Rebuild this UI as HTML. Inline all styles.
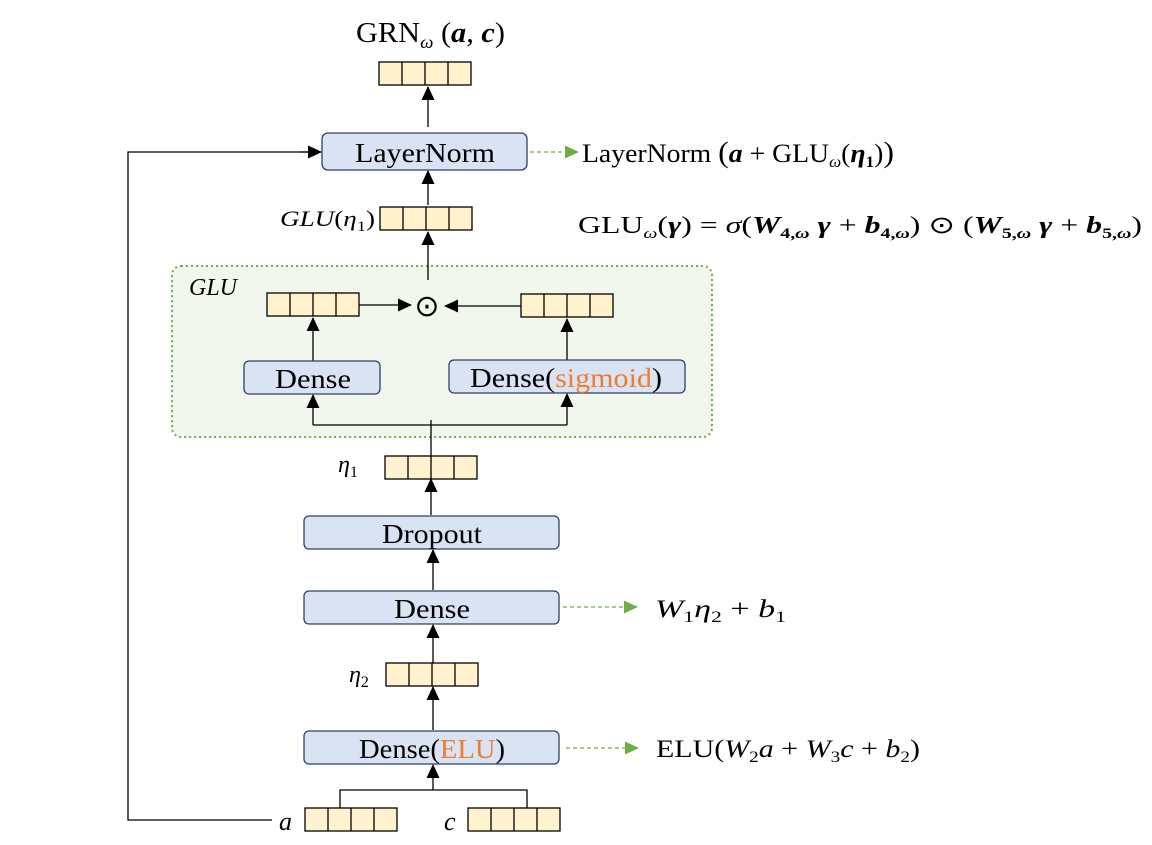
<!DOCTYPE html>
<html><head><meta charset="utf-8"><style>
html,body{margin:0;padding:0;background:#fff;}
svg{display:block;font-family:"Liberation Serif",serif;}
.b{fill:#dae3f3;stroke:#2f4060;stroke-width:1.3;}
.v{fill:#fff2cc;stroke:#000;stroke-width:1.3;}
.l{stroke:#000;stroke-width:1.3;fill:none;}
.g{stroke:#70ad47;stroke-width:1.3;stroke-dasharray:4,3;fill:none;}
</style></head><body>
<svg width="1152" height="845" viewBox="0 0 1152 845" xmlns="http://www.w3.org/2000/svg">
<defs>
<marker id="a" markerWidth="14" markerHeight="14" refX="13" refY="6.5" orient="auto" markerUnits="userSpaceOnUse"><path d="M0,0 L14,6.5 L0,13 z" fill="#000"/></marker>
<marker id="gA" markerWidth="14" markerHeight="14" refX="13" refY="6.5" orient="auto" markerUnits="userSpaceOnUse"><path d="M0,0 L14,6.5 L0,13 z" fill="#70ad47"/></marker>
<g id="vec"><rect class="v" x="0" y="0" width="92" height="23"/><path class="l" d="M23,0V23M46,0V23M69,0V23"/></g>
</defs>

<!-- GLU region -->
<rect x="172" y="266" width="540" height="171" rx="9" fill="#f2f7ee" stroke="#70ad47" stroke-width="2" stroke-dasharray="2,3"/>
<text x="189" y="295" font-size="24" font-style="italic" textLength="48" lengthAdjust="spacingAndGlyphs">GLU</text>

<!-- title -->
<text x="356" y="42" font-size="29" textLength="149" lengthAdjust="spacingAndGlyphs">GRN<tspan font-size="18" font-style="italic" dy="6">ω</tspan><tspan dy="-6"> (</tspan><tspan font-weight="bold" font-style="italic">a</tspan>, <tspan font-weight="bold" font-style="italic">c</tspan>)</text>
<use href="#vec" x="379" y="62"/>
<line class="l" x1="428" y1="127" x2="428" y2="87" marker-end="url(#a)"/>

<!-- LayerNorm -->
<rect class="b" x="322" y="133" width="205" height="37" rx="6"/>
<text x="355" y="162" font-size="27" textLength="140" lengthAdjust="spacingAndGlyphs">LayerNorm</text>
<line class="g" x1="530" y1="152" x2="578" y2="152" marker-end="url(#gA)"/>
<text x="582" y="162" font-size="26" textLength="312" lengthAdjust="spacingAndGlyphs">LayerNorm <tspan font-size="30">(</tspan><tspan font-weight="bold" font-style="italic">a</tspan> + GLU<tspan font-size="16" font-style="italic" dy="5">ω</tspan><tspan dy="-5">(</tspan><tspan font-weight="bold" font-style="italic">η</tspan><tspan font-size="16" font-weight="bold" dy="5">1</tspan><tspan dy="-5">)</tspan><tspan font-size="30">)</tspan></text>

<line class="l" x1="428" y1="205" x2="428" y2="171" marker-end="url(#a)"/>
<text x="280" y="226" font-size="22" textLength="95" lengthAdjust="spacingAndGlyphs"><tspan font-style="italic">GLU</tspan>(<tspan font-style="italic">η</tspan><tspan font-size="15" dy="5">1</tspan><tspan dy="-5">)</tspan></text>
<use href="#vec" x="380" y="207"/>
<text x="578" y="233" font-size="24" textLength="564" lengthAdjust="spacingAndGlyphs">GLU<tspan font-size="15" font-style="italic" dy="5">ω</tspan><tspan dy="-5">(</tspan><tspan font-weight="bold" font-style="italic">γ</tspan>) = <tspan font-style="italic">σ</tspan>(<tspan font-weight="bold" font-style="italic">W</tspan><tspan font-size="15" font-weight="bold" dy="5">4,<tspan font-style="italic">ω</tspan></tspan><tspan dy="-5"> </tspan><tspan font-weight="bold" font-style="italic">γ</tspan> + <tspan font-weight="bold" font-style="italic">b</tspan><tspan font-size="15" font-weight="bold" dy="5">4,<tspan font-style="italic">ω</tspan></tspan><tspan dy="-5">) ⊙ (</tspan><tspan font-weight="bold" font-style="italic">W</tspan><tspan font-size="15" font-weight="bold" dy="5">5,<tspan font-style="italic">ω</tspan></tspan><tspan dy="-5"> </tspan><tspan font-weight="bold" font-style="italic">γ</tspan> + <tspan font-weight="bold" font-style="italic">b</tspan><tspan font-size="15" font-weight="bold" dy="5">5,<tspan font-style="italic">ω</tspan></tspan><tspan dy="-5">)</tspan></text>

<line class="l" x1="428" y1="280" x2="428" y2="232" marker-end="url(#a)"/>

<!-- GLU internals -->
<use href="#vec" x="267" y="293"/>
<use href="#vec" x="521" y="294"/>
<text x="427" y="316" font-size="30" text-anchor="middle">⊙</text>
<line class="l" x1="359" y1="305" x2="411" y2="305" marker-end="url(#a)"/>
<line class="l" x1="521" y1="306" x2="445" y2="306" marker-end="url(#a)"/>
<line class="l" x1="313" y1="361" x2="313" y2="318" marker-end="url(#a)"/>
<line class="l" x1="567" y1="360" x2="567" y2="319" marker-end="url(#a)"/>
<rect class="b" x="244" y="361" width="136" height="33" rx="5"/>
<text x="275" y="388" font-size="27" textLength="76" lengthAdjust="spacingAndGlyphs">Dense</text>
<rect class="b" x="449" y="360" width="236" height="33" rx="5"/>
<text x="470" y="387" font-size="27" textLength="192" lengthAdjust="spacingAndGlyphs">Dense(<tspan fill="#ed7d31">sigmoid</tspan>)</text>
<path class="l" d="M431,480 V425 M313,425 H567 M431,420 V425"/>
<line class="l" x1="313" y1="425" x2="313" y2="395" marker-end="url(#a)"/>
<line class="l" x1="567" y1="425" x2="567" y2="394" marker-end="url(#a)"/>

<!-- eta1 -->
<text x="338" y="472" font-size="24" font-style="italic">η<tspan font-size="16" font-style="normal" dy="5">1</tspan></text>
<use href="#vec" x="385" y="456"/>
<line class="l" x1="431" y1="515" x2="431" y2="479" marker-end="url(#a)"/>

<rect class="b" x="304" y="516" width="255" height="33" rx="5"/>
<text x="382" y="543" font-size="27" textLength="100" lengthAdjust="spacingAndGlyphs">Dropout</text>
<line class="l" x1="433" y1="590" x2="433" y2="550" marker-end="url(#a)"/>

<rect class="b" x="304" y="591" width="255" height="33" rx="5"/>
<text x="394" y="618" font-size="27" textLength="76" lengthAdjust="spacingAndGlyphs">Dense</text>
<line class="g" x1="563" y1="607" x2="637" y2="607" marker-end="url(#gA)"/>
<text x="655" y="617" font-size="25" textLength="131" lengthAdjust="spacingAndGlyphs"><tspan font-style="italic">W</tspan><tspan font-size="16" dy="5">1</tspan><tspan dy="-5" font-style="italic">η</tspan><tspan font-size="16" dy="5">2</tspan><tspan dy="-5"> + </tspan><tspan font-style="italic">b</tspan><tspan font-size="16" dy="5">1</tspan></text>
<line class="l" x1="433" y1="663" x2="433" y2="625" marker-end="url(#a)"/>

<text x="349" y="682" font-size="24" font-style="italic">η<tspan font-size="16" font-style="normal" dy="5">2</tspan></text>
<use href="#vec" x="386" y="663"/>
<line class="l" x1="433" y1="730" x2="433" y2="687" marker-end="url(#a)"/>

<rect class="b" x="304" y="731" width="255" height="33" rx="5"/>
<text x="359" y="758" font-size="27" textLength="146" lengthAdjust="spacingAndGlyphs">Dense(<tspan fill="#ed7d31">ELU</tspan>)</text>
<line class="g" x1="566" y1="748" x2="638" y2="748" marker-end="url(#gA)"/>
<text x="656" y="757" font-size="25" textLength="264" lengthAdjust="spacingAndGlyphs">ELU(<tspan font-style="italic">W</tspan><tspan font-size="16" dy="5">2</tspan><tspan dy="-5" font-style="italic">a</tspan> + <tspan font-style="italic">W</tspan><tspan font-size="16" dy="5">3</tspan><tspan dy="-5" font-style="italic">c</tspan> + <tspan font-style="italic">b</tspan><tspan font-size="16" dy="5">2</tspan><tspan dy="-5">)</tspan></text>

<path class="l" d="M340,808 V790 H527 V808"/>
<line class="l" x1="433" y1="790" x2="433" y2="765" marker-end="url(#a)"/>

<text x="279" y="830" font-size="26" font-style="italic">a</text>
<use href="#vec" x="305" y="808"/>
<text x="444" y="830" font-size="26" font-style="italic">c</text>
<use href="#vec" x="468" y="808"/>

<path class="l" d="M272,820 H128 V152 H312"/>
<line class="l" x1="300" y1="152" x2="321" y2="152" marker-end="url(#a)"/>
</svg>
</body></html>
